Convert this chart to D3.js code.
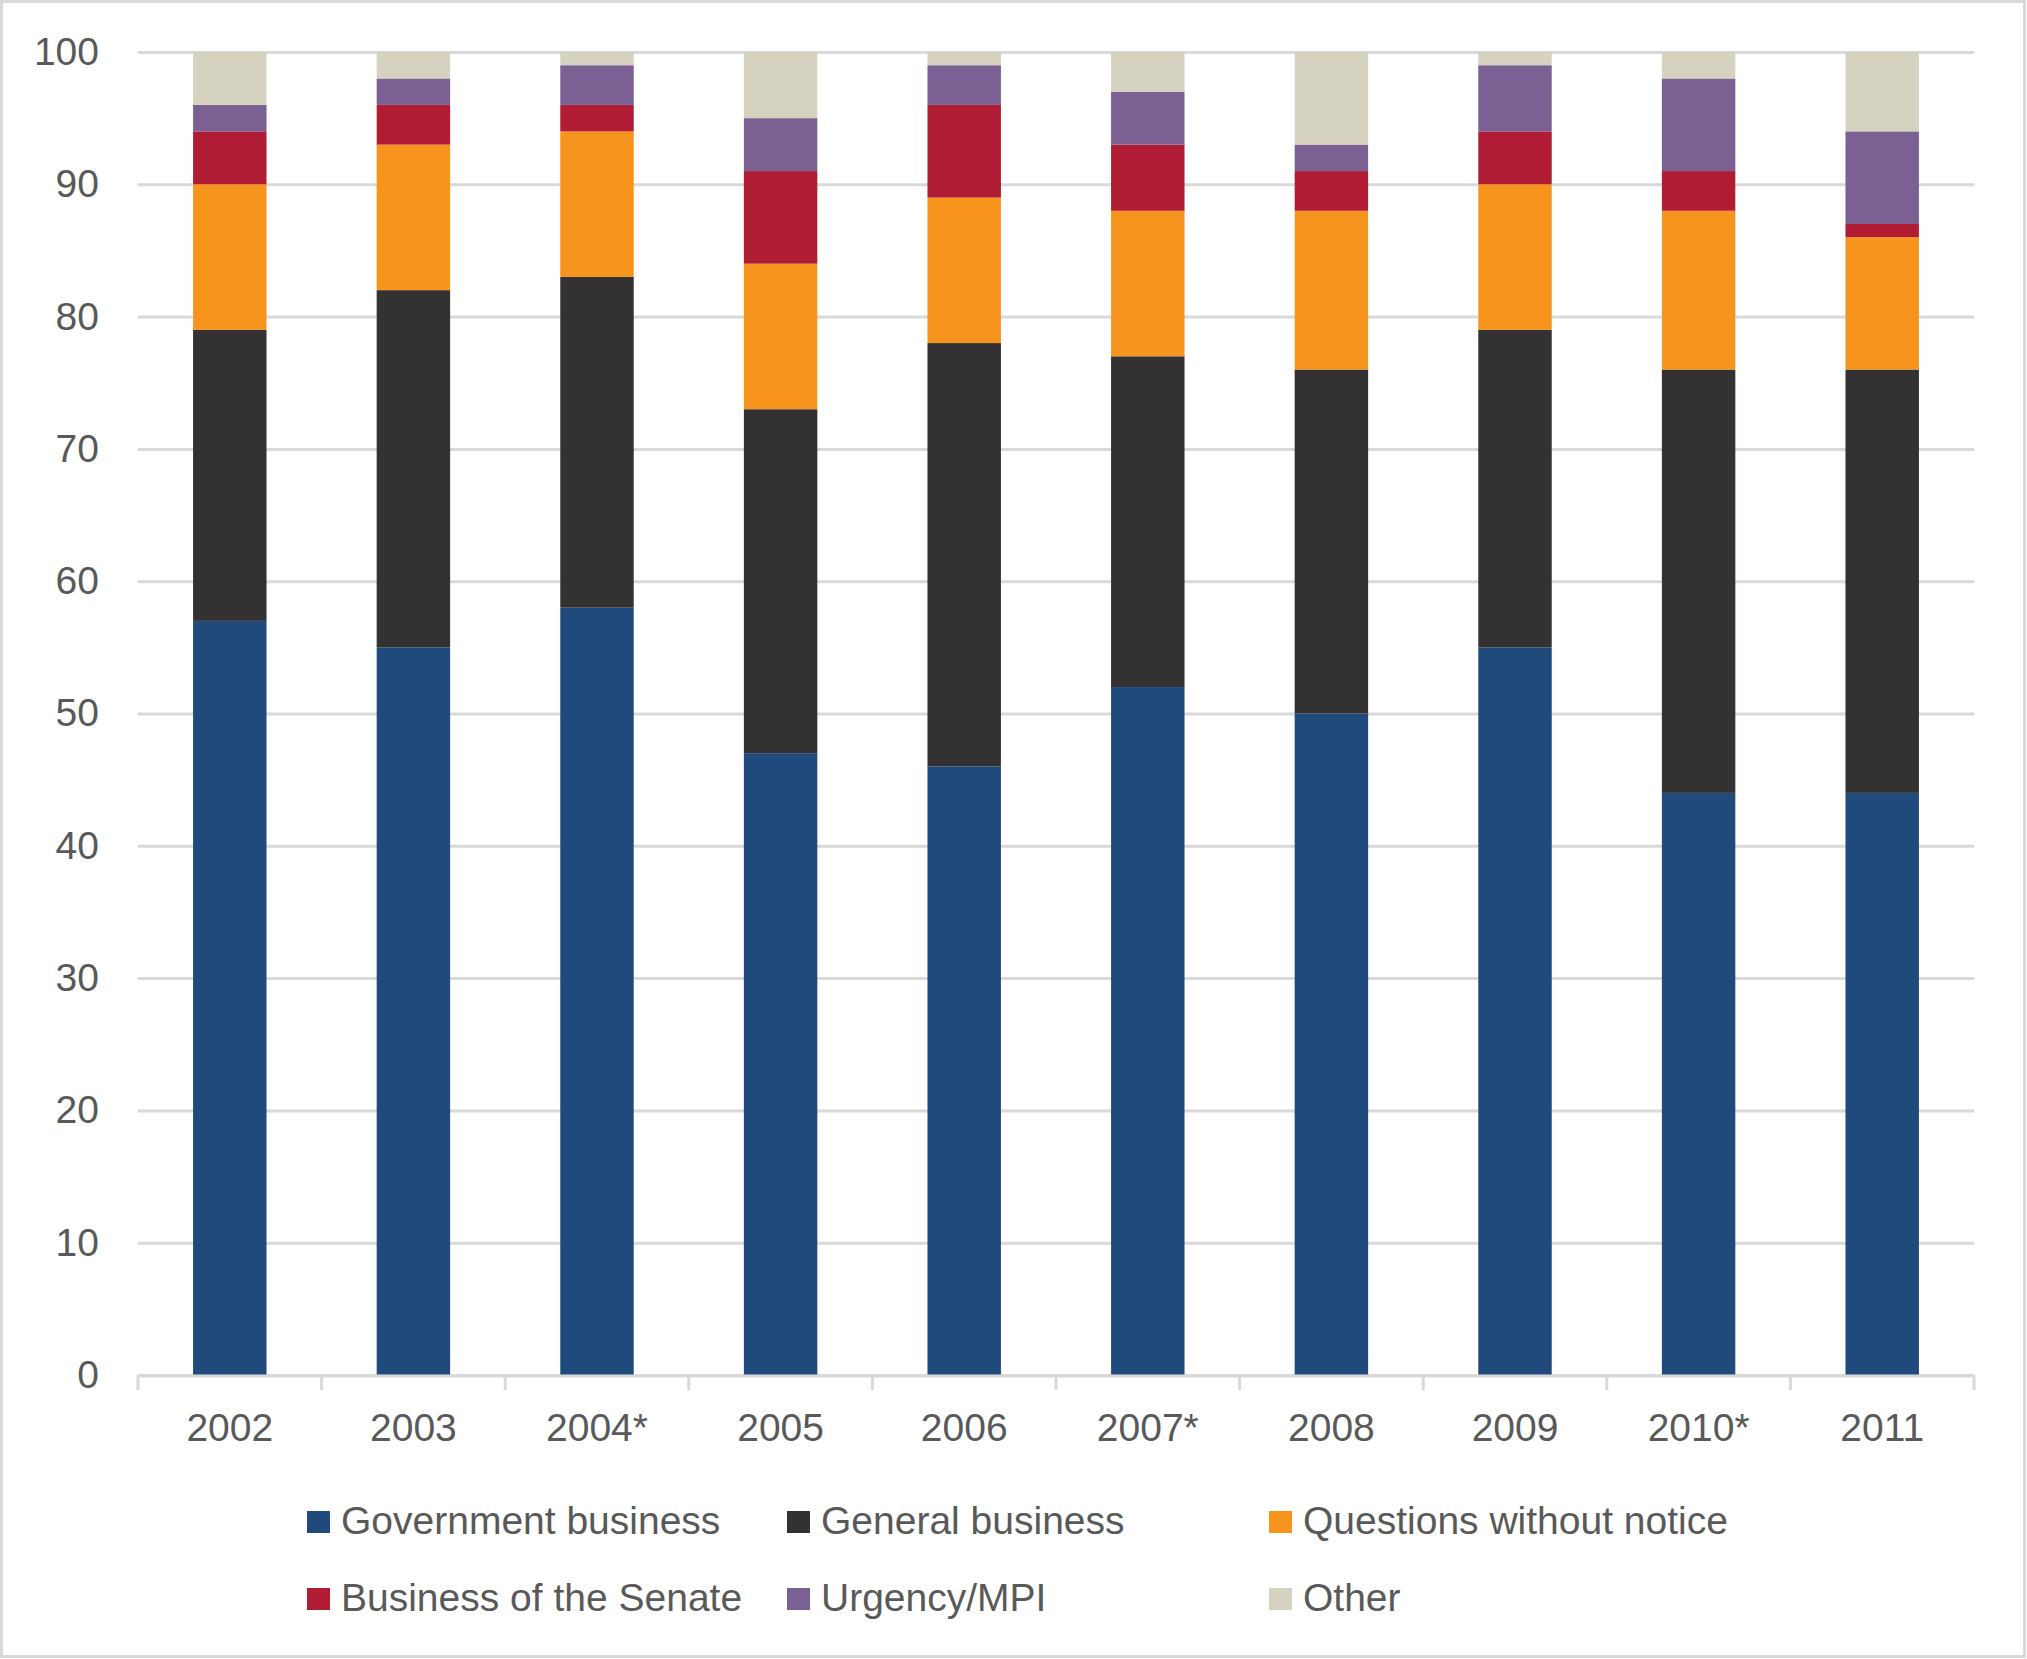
<!DOCTYPE html>
<html>
<head>
<meta charset="utf-8">
<script src="https://cdn.jsdelivr.net/npm/d3@7"></script>
<style>
  body { margin: 0; background: #fff; overflow: hidden; }
  text { font-family: "Liberation Sans", Arial, sans-serif; fill: #595959; }
</style>
</head>
<body>
<div id="chart"></div>
<script>
var years = ["2002", "2003", "2004*", "2005", "2006", "2007*", "2008", "2009", "2010*", "2011"];
var seriesNames = ["Government business", "General business", "Questions without notice",
                   "Business of the Senate", "Urgency/MPI", "Other"];
var seriesColors = ["#214a7c", "#333132", "#f7941e", "#b01c33", "#7b6094", "#d5d2c0"];

var government = [57, 55, 58, 47, 46, 52, 50, 55, 44, 44];
var general    = [22, 27, 25, 26, 32, 25, 26, 24, 32, 32];
var questions  = [11, 11, 11, 11, 11, 11, 12, 11, 12, 10];
var senate     = [4, 3, 2, 7, 7, 5, 3, 4, 3, 1];
var urgency    = [2, 2, 3, 4, 3, 4, 2, 5, 7, 7];
var other      = [4, 2, 1, 5, 1, 3, 7, 1, 2, 6];
var yTicks = [0, 10, 20, 30, 40, 50, 60, 70, 80, 90, 100];

var width = 2027;
var height = 1659;
var plotLeft = 138, plotRight = 1974, plotTop = 52, plotBottom = 1375;

var svg = d3.select("#chart").append("svg")
    .attr("width", width)
    .attr("height", height);

// outer frame
svg.append("rect")
    .attr("x", 1.5).attr("y", 1.5)
    .attr("width", width - 4).attr("height", height - 4)
    .attr("fill", "#fff").attr("stroke", "#d9d9d9").attr("stroke-width", 3);

var x = d3.scaleBand().domain(years).range([plotLeft, plotRight])
    .paddingInner(0.6).paddingOuter(0.3);
var y = d3.scaleLinear().domain([0, 100]).range([plotBottom, plotTop]);

// table for the stack
var table = years.map(function (yr, i) {
    return {
        year: yr,
        s0: government[i], s1: general[i], s2: questions[i],
        s3: senate[i], s4: urgency[i], s5: other[i]
    };
});
var keys = ["s0", "s1", "s2", "s3", "s4", "s5"];
var stacked = d3.stack().keys(keys)(table);

// gridlines + y labels
var yAxis = svg.append("g")
    .attr("transform", "translate(" + plotLeft + ",0)")
    .call(d3.axisLeft(y).tickValues(yTicks).tickSize(-(plotRight - plotLeft)).tickPadding(39));
yAxis.select(".domain").remove();
yAxis.selectAll(".tick line").attr("stroke", "#d9d9d9").attr("stroke-width", 3);
yAxis.selectAll(".tick text")
    .style("font-size", "39px")
    .style("font-family", "'Liberation Sans', Arial, sans-serif")
    .attr("fill", "#595959");

// bars
svg.append("g").selectAll("g")
    .data(stacked).enter().append("g")
    .attr("fill", function (d, i) { return seriesColors[i]; })
    .selectAll("rect")
    .data(function (d) { return d; })
    .enter().append("rect")
    .attr("x", function (d) { return x(d.data.year); })
    .attr("y", function (d) { return y(d[1]); })
    .attr("width", x.bandwidth())
    .attr("height", function (d) { return y(d[0]) - y(d[1]); });

// x axis line, category ticks and labels
svg.append("line")
    .attr("x1", plotLeft).attr("x2", plotRight)
    .attr("y1", plotBottom + 1).attr("y2", plotBottom + 1)
    .attr("stroke", "#d9d9d9").attr("stroke-width", 3);

var step = x.step();
var bounds = d3.range(years.length + 1).map(function (k) { return plotLeft + k * step; });
svg.append("g").selectAll("line")
    .data(bounds).enter().append("line")
    .attr("x1", function (d) { return d; }).attr("x2", function (d) { return d; })
    .attr("y1", plotBottom).attr("y2", plotBottom + 15)
    .attr("stroke", "#d9d9d9").attr("stroke-width", 3);

var xAxis = svg.append("g")
    .attr("transform", "translate(0," + plotBottom + ")")
    .call(d3.axisBottom(x).tickSize(0).tickPadding(38));
xAxis.select(".domain").remove();
xAxis.selectAll(".tick text")
    .style("font-size", "39px")
    .style("font-family", "'Liberation Sans', Arial, sans-serif")
    .attr("fill", "#595959");

// legend
var legendX = [307, 787, 1269];
var legendY = [1511, 1588];
var legend = svg.append("g").selectAll("g")
    .data(seriesNames).enter().append("g")
    .attr("transform", function (d, i) {
        return "translate(" + legendX[i % 3] + "," + legendY[Math.floor(i / 3)] + ")";
    });
legend.append("rect")
    .attr("width", 23).attr("height", 22)
    .attr("fill", function (d, i) { return seriesColors[i]; });
legend.append("text")
    .attr("x", 34).attr("y", 23)
    .style("font-size", "39px")
    .text(function (d) { return d; });
</script>
</body>
</html>
